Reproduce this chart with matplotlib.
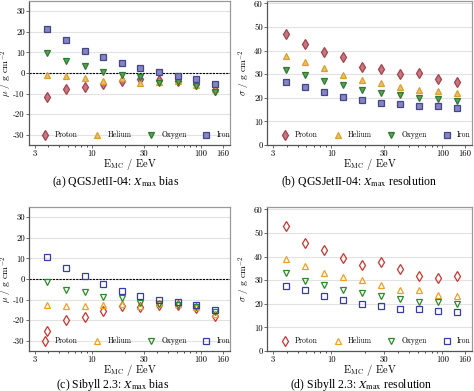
import matplotlib
matplotlib.use("Agg")
import matplotlib.pyplot as plt
from matplotlib.ticker import FixedLocator, FixedFormatter, NullFormatter, LogLocator

plt.rcParams['font.family'] = ['cmr10', 'DejaVu Serif']
plt.rcParams['mathtext.fontset'] = 'cm'
plt.rcParams['axes.unicode_minus'] = False

# energy bin centres in EeV
energy = [3.9, 5.8, 8.6, 12.7, 18.8, 27.9, 41.3, 61.2, 90.8, 135.0]
primaries = ["Proton", "Helium", "Oxygen", "Iron"]

# QGSJetII-04
qgs_bias_proton = [-11.8, -7.6, -6.9, -5.3, -3.7, -3.0, -3.4, -3.7, -5.5, -8.4]
qgs_bias_helium = [-1.0, -1.5, -2.3, -3.7, -2.5, -4.7, -4.6, -3.9, -5.8, -7.9]
qgs_bias_oxygen = [9.8, 5.8, 3.2, 0.6, -1.0, -2.1, -4.7, -4.5, -6.3, -9.2]
qgs_bias_iron = [21.5, 16.0, 10.8, 8.0, 5.0, 2.6, 0.3, -1.5, -3.1, -5.3]

qgs_res_proton = [47.0, 42.8, 39.2, 37.3, 33.1, 32.3, 30.0, 30.5, 27.8, 26.6]
qgs_res_helium = [37.8, 35.1, 32.7, 29.7, 27.6, 26.1, 24.5, 23.2, 22.7, 22.0]
qgs_res_oxygen = [31.9, 29.5, 27.2, 25.4, 23.4, 22.2, 21.1, 20.0, 19.5, 18.8]
qgs_res_iron = [26.6, 24.4, 22.4, 20.4, 19.1, 18.0, 17.3, 16.7, 16.6, 15.7]

# Sibyll 2.3
sib_bias_proton = [-25.2, -19.8, -18.7, -15.6, -13.0, -13.7, -12.7, -12.6, -14.0, -18.0]
sib_bias_helium = [-12.4, -13.0, -13.0, -12.7, -12.1, -12.9, -11.6, -12.2, -13.5, -17.1]
sib_bias_oxygen = [-1.3, -5.2, -6.5, -8.9, -9.2, -11.6, -12.1, -12.4, -13.7, -15.8]
sib_bias_iron = [10.5, 5.5, 1.3, -2.4, -5.6, -8.4, -10.0, -11.3, -12.7, -15.2]

sib_res_proton = [52.8, 45.6, 42.8, 39.5, 36.6, 37.8, 34.9, 31.7, 31.1, 31.8]
sib_res_helium = [38.8, 36.1, 33.1, 31.4, 30.1, 28.0, 25.9, 25.7, 23.6, 23.4]
sib_res_oxygen = [33.1, 29.7, 28.0, 26.0, 24.6, 23.4, 22.0, 20.7, 20.6, 20.0]
sib_res_iron = [27.6, 25.7, 23.3, 21.4, 19.9, 19.0, 18.0, 17.6, 16.8, 16.6]

captions = [
    r"(a) QGSJetII-04: $X_{\max}$ bias",
    r"(b) QGSJetII-04: $X_{\max}$ resolution",
    r"(c) Sibyll 2.3: $X_{\max}$ bias",
    r"(d) Sibyll 2.3: $X_{\max}$ resolution",
]

markers = ["d", "^", "v", "s"]
msizes = [5.0, 4.6, 4.6, 4.2]
face_filled = ["#c27a80", "#eec060", "#5f9e5f", "#8585c2"]
edge_filled = ["#a8404c", "#d8a030", "#2f7a2f", "#45458a"]
edge_open = ["#c8352f", "#f0a020", "#2a8a2a", "#3b3ba8"]

W, H = 474, 391
fig = plt.figure(figsize=(W / 100, H / 100), dpi=100)


def px_axes(x0, x1, y0, y1):
    return fig.add_axes([x0 / W, 1 - y1 / H, (x1 - x0) / W, (y1 - y0) / H])


def style(ax, ylim, yticks, ylabel, bias):
    ax.set_xscale("log")
    ax.set_xlim(2.65, 185)
    ax.set_ylim(*ylim)
    ax.xaxis.set_major_locator(FixedLocator([3, 10, 30, 100, 160]))
    ax.xaxis.set_major_formatter(FixedFormatter(["3", "10", "30", "100", "160"]))
    ax.xaxis.set_minor_locator(LogLocator(subs=range(2, 10)))
    ax.xaxis.set_minor_formatter(NullFormatter())
    ax.set_yticks(yticks)
    ax.grid(True, axis="y", color="#e2e2e2", lw=0.8)
    ax.set_axisbelow(True)
    for s in ax.spines.values():
        s.set_color("#9a9a9a")
        s.set_linewidth(0.9)
    ax.spines["left"].set_color("#555555")
    ax.spines["bottom"].set_color("#555555")
    ax.tick_params(labelsize=6.3, length=2.0, width=0.6, color="#555555", pad=1)
    ax.tick_params(which="minor", length=1.5, width=0.5)
    ax.set_xlabel(r"E$_{\rm MC}$ / EeV", fontsize=7.5, labelpad=-0.5)
    ax.set_ylabel(ylabel, fontsize=6.8)
    ax.yaxis.set_label_coords(-0.073, 0.5)
    if bias:
        ax.axhline(0, color="black", lw=0.8, ls=(0, (2, 1)), zorder=1)


def draw(ax, series, filled):
    for i, y in enumerate(series):
        if filled:
            fc, ec = face_filled[i], edge_filled[i]
        else:
            fc, ec = "none", edge_open[i]
        ax.plot(energy, y, ls="none", marker=markers[i], ms=msizes[i],
                mfc=fc, mec=ec, mew=0.9, label=primaries[i], zorder=3)
    ax.legend(loc="lower center", bbox_to_anchor=(0.53, 0.0), ncol=4,
              frameon=False, fontsize=5.5, handlelength=1.0,
              handletextpad=0.8, columnspacing=2.1, borderaxespad=0.35)


ax_a = px_axes(29, 230, 1, 145)
style(ax_a, (-35, 35), range(-30, 31, 10), r"$\mu$ / g cm$^{-2}$", True)
draw(ax_a, [qgs_bias_proton, qgs_bias_helium, qgs_bias_oxygen, qgs_bias_iron], True)

ax_b = px_axes(267, 472, 1, 145)
style(ax_b, (0, 61), range(0, 61, 10), r"$\sigma$ / g cm$^{-2}$", False)
draw(ax_b, [qgs_res_proton, qgs_res_helium, qgs_res_oxygen, qgs_res_iron], True)

ax_c = px_axes(29, 230, 207, 351)
style(ax_c, (-35, 35), range(-30, 31, 10), r"$\mu$ / g cm$^{-2}$", True)
draw(ax_c, [sib_bias_proton, sib_bias_helium, sib_bias_oxygen, sib_bias_iron], False)

ax_d = px_axes(267, 472, 207, 351)
style(ax_d, (0, 61), range(0, 61, 10), r"$\sigma$ / g cm$^{-2}$", False)
draw(ax_d, [sib_res_proton, sib_res_helium, sib_res_oxygen, sib_res_iron], False)

cap_pos = [(116, 182), (359, 182), (113, 385), (361, 385)]
for (cx, cy), text in zip(cap_pos, captions):
    fig.text(cx / W, 1 - cy / H, text, ha="center", va="center", fontsize=8.5,
             family="Liberation Serif", math_fontfamily="stix")

fig.savefig("out.png", dpi=100)
